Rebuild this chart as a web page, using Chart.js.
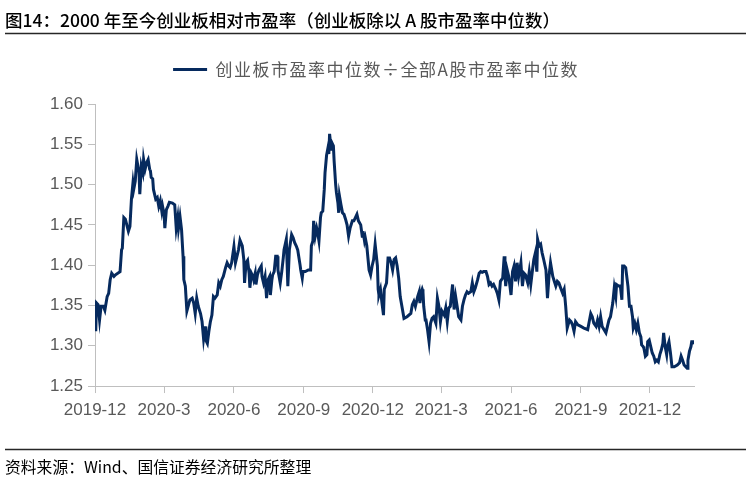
<!DOCTYPE html>
<html><head><meta charset="utf-8">
<script src="https://cdn.jsdelivr.net/npm/chart.js@4"></script>
<style>html,body{margin:0;padding:0;background:#fff;}#wrap{width:752px;height:485px;position:relative;}</style>
</head><body><div id="wrap"><canvas id="c"></canvas></div>
<script>
const titleText = '图14：2000 年至今创业板相对市盈率（创业板除以 A 股市盈率中位数）';
const sourceText = '资料来源：Wind、国信证券经济研究所整理';
const seriesName = '创业板市盈率中位数÷全部A股市盈率中位数';

const xTickDates = ['2019-12-01','2020-03-01','2020-06-01','2020-09-01','2020-12-01','2021-03-01','2021-06-01','2021-09-01','2021-12-01'];
const xTickLabels = ['2019-12','2020-3','2020-6','2020-9','2020-12','2021-3','2021-6','2021-9','2021-12'];
const axisStartDate = '2019-12-01';
const axisEndDate = '2022-01-28';
const yTicks = [1.25,1.30,1.35,1.40,1.45,1.50,1.55,1.60];
const yTickLabels = ['1.25','1.30','1.35','1.40','1.45','1.50','1.55','1.60'];

const dates = [
'2019-12-02','2019-12-03','2019-12-05','2019-12-07','2019-12-09','2019-12-12','2019-12-14','2019-12-17','2019-12-19','2019-12-21','2019-12-23','2019-12-26','2019-12-28',
'2020-01-03','2020-01-05','2020-01-06','2020-01-08','2020-01-10','2020-01-14','2020-01-16','2020-01-18','2020-01-20','2020-01-21','2020-01-23','2020-01-25','2020-01-28','2020-01-29','2020-01-31',
'2020-02-02','2020-02-03','2020-02-05','2020-02-07','2020-02-09','2020-02-11','2020-02-12','2020-02-13','2020-02-15','2020-02-16','2020-02-19','2020-02-21','2020-02-23','2020-02-25','2020-02-27','2020-02-28',
'2020-03-01','2020-03-02','2020-03-04','2020-03-06','2020-03-08','2020-03-12','2020-03-15','2020-03-17','2020-03-19','2020-03-20','2020-03-22','2020-03-24','2020-03-26','2020-03-27','2020-03-29','2020-03-31',
'2020-04-04','2020-04-07','2020-04-09','2020-04-11','2020-04-13','2020-04-15','2020-04-18','2020-04-20','2020-04-22','2020-04-24','2020-04-25','2020-04-27','2020-04-29',
'2020-05-01','2020-05-03','2020-05-05','2020-05-07','2020-05-10','2020-05-12','2020-05-14','2020-05-16','2020-05-18','2020-05-21','2020-05-23','2020-05-25','2020-05-27','2020-05-29',
'2020-06-01','2020-06-03','2020-06-05','2020-06-07','2020-06-09','2020-06-12','2020-06-14','2020-06-15','2020-06-17','2020-06-19','2020-06-21','2020-06-22','2020-06-24','2020-06-26','2020-06-27','2020-06-29','2020-06-30',
'2020-07-02','2020-07-04','2020-07-07','2020-07-08','2020-07-10','2020-07-12','2020-07-14','2020-07-16','2020-07-18','2020-07-19','2020-07-21','2020-07-22','2020-07-24','2020-07-26','2020-07-28','2020-07-29',
'2020-08-01','2020-08-03','2020-08-05','2020-08-06','2020-08-09','2020-08-11','2020-08-13','2020-08-16','2020-08-18','2020-08-20','2020-08-22','2020-08-24','2020-08-27','2020-08-28','2020-08-30','2020-08-31',
'2020-09-03','2020-09-07','2020-09-10','2020-09-11','2020-09-13','2020-09-14','2020-09-16','2020-09-18','2020-09-19','2020-09-21','2020-09-23','2020-09-24','2020-09-26','2020-09-28','2020-09-29',
'2020-10-01','2020-10-03','2020-10-04','2020-10-05','2020-10-07','2020-10-08','2020-10-10','2020-10-11','2020-10-13','2020-10-14','2020-10-16','2020-10-17','2020-10-18','2020-10-20','2020-10-22','2020-10-24','2020-10-26','2020-10-28','2020-10-30',
'2020-11-01','2020-11-04','2020-11-06','2020-11-08','2020-11-10','2020-11-12','2020-11-15','2020-11-17','2020-11-18','2020-11-20','2020-11-21','2020-11-23','2020-11-26','2020-11-28','2020-11-30',
'2020-12-02','2020-12-04','2020-12-07','2020-12-08','2020-12-09','2020-12-11','2020-12-13','2020-12-15','2020-12-16','2020-12-19','2020-12-21','2020-12-23','2020-12-25','2020-12-27','2020-12-29','2020-12-31',
'2021-01-02','2021-01-04','2021-01-06','2021-01-09','2021-01-11','2021-01-15','2021-01-20','2021-01-22','2021-01-24','2021-01-26','2021-01-29','2021-01-31',
'2021-02-01','2021-02-03','2021-02-04','2021-02-05','2021-02-06','2021-02-08','2021-02-09','2021-02-11','2021-02-13','2021-02-15','2021-02-17','2021-02-19','2021-02-22','2021-02-24','2021-02-26','2021-02-28',
'2021-03-02','2021-03-05','2021-03-07','2021-03-09','2021-03-11','2021-03-13','2021-03-16','2021-03-18','2021-03-20','2021-03-22','2021-03-24','2021-03-27','2021-03-29','2021-03-31',
'2021-04-02','2021-04-04','2021-04-06','2021-04-09','2021-04-11','2021-04-13','2021-04-15','2021-04-18','2021-04-20','2021-04-22','2021-04-24','2021-04-26','2021-04-29',
'2021-05-01','2021-05-03','2021-05-05','2021-05-07','2021-05-09','2021-05-12','2021-05-14','2021-05-16','2021-05-18','2021-05-21','2021-05-23','2021-05-24','2021-05-25','2021-05-27','2021-05-29',
'2021-06-01','2021-06-03','2021-06-05','2021-06-07','2021-06-09','2021-06-11','2021-06-14','2021-06-16','2021-06-18','2021-06-20','2021-06-23','2021-06-25','2021-06-27','2021-06-29',
'2021-07-01','2021-07-03','2021-07-05','2021-07-06','2021-07-08','2021-07-10','2021-07-12','2021-07-14','2021-07-17','2021-07-19','2021-07-21','2021-07-23','2021-07-26','2021-07-28','2021-07-30',
'2021-08-01','2021-08-03','2021-08-06','2021-08-08','2021-08-10','2021-08-12','2021-08-14','2021-08-17','2021-08-19','2021-08-21','2021-08-23','2021-08-25','2021-08-28',
'2021-09-01','2021-09-05','2021-09-10','2021-09-12','2021-09-14','2021-09-16','2021-09-18','2021-09-21','2021-09-23','2021-09-25','2021-09-27','2021-09-29',
'2021-10-04','2021-10-06','2021-10-08','2021-10-10','2021-10-13','2021-10-15','2021-10-17','2021-10-18','2021-10-21','2021-10-23','2021-10-25','2021-10-26','2021-10-28','2021-10-30',
'2021-11-02','2021-11-04','2021-11-06','2021-11-08','2021-11-09','2021-11-11','2021-11-13','2021-11-15','2021-11-17','2021-11-19','2021-11-20','2021-11-22','2021-11-23','2021-11-25','2021-11-27','2021-11-28','2021-11-30',
'2021-12-02','2021-12-04','2021-12-06','2021-12-08','2021-12-10','2021-12-12','2021-12-14','2021-12-16','2021-12-18','2021-12-19','2021-12-21','2021-12-23','2021-12-24','2021-12-26','2021-12-28','2021-12-30',
'2022-01-02','2022-01-06','2022-01-09','2022-01-11','2022-01-13','2022-01-15','2022-01-19','2022-01-20','2022-01-22','2022-01-24','2022-01-25','2022-01-27','2022-01-28'
];
const values = [
1.318,1.353,1.351,1.332,1.349,1.349,1.344,1.361,1.365,1.382,1.390,1.386,1.388,
1.392,1.419,1.421,1.459,1.457,1.442,1.448,1.482,1.502,1.494,1.504,1.531,1.515,1.488,1.523,
1.515,1.531,1.519,1.527,1.531,1.519,1.517,1.509,1.507,1.494,1.482,1.484,1.473,1.480,1.467,1.473,
1.463,1.446,1.469,1.473,1.478,1.477,1.475,1.446,1.459,1.446,1.460,1.444,1.411,1.382,1.374,1.343,
1.357,1.359,1.353,1.340,1.359,1.349,1.340,1.330,1.309,1.324,1.307,1.303,1.318,
1.330,1.338,1.361,1.359,1.363,1.378,1.374,1.382,1.386,1.397,1.403,1.399,1.397,1.403,
1.423,1.403,1.411,1.419,1.431,1.424,1.407,1.378,1.403,1.406,1.390,1.372,1.390,1.386,1.382,1.390,1.376,
1.388,1.394,1.399,1.386,1.378,1.386,1.359,1.382,1.386,1.363,1.382,1.388,1.392,1.411,1.411,1.394,
1.378,1.392,1.409,1.419,1.432,1.374,1.419,1.438,1.434,1.428,1.424,1.419,1.401,1.394,1.384,1.392,
1.392,1.394,1.394,1.424,1.430,1.455,1.436,1.446,1.442,1.430,1.459,1.465,1.467,1.494,1.515,
1.536,1.546,1.538,1.563,1.544,1.552,1.548,1.529,1.500,1.490,1.477,1.465,1.486,1.475,1.465,1.463,1.457,1.450,1.436,
1.446,1.455,1.455,1.459,1.463,1.455,1.450,1.436,1.442,1.430,1.434,1.424,1.394,1.388,1.399,
1.407,1.426,1.399,1.370,1.363,1.370,1.353,1.338,1.370,1.378,1.409,1.409,1.403,1.394,1.407,1.409,
1.399,1.384,1.361,1.345,1.334,1.336,1.340,1.351,1.355,1.349,1.361,1.367,
1.353,1.367,1.370,1.367,1.349,1.332,1.332,1.320,1.305,1.328,1.334,1.336,1.328,1.359,1.349,1.330,
1.343,1.338,1.347,1.330,1.347,1.349,1.376,1.345,1.361,1.349,1.336,1.332,1.349,1.357,
1.363,1.367,1.365,1.367,1.378,1.367,1.372,1.382,1.390,1.392,1.391,1.392,1.392,
1.386,1.376,1.378,1.374,1.376,1.370,1.365,1.357,1.380,1.384,1.411,1.388,1.374,1.394,1.386,
1.363,1.392,1.399,1.380,1.403,1.386,1.403,1.374,1.390,1.388,1.378,1.392,1.376,1.392,
1.407,1.415,1.392,1.432,1.424,1.426,1.415,1.407,1.394,1.359,1.386,1.403,1.386,1.380,1.374,
1.380,1.378,1.370,1.365,1.370,1.349,1.322,1.332,1.330,1.326,1.318,1.330,1.326,
1.324,1.322,1.320,1.330,1.340,1.336,1.328,1.324,1.332,1.324,1.336,1.324,
1.316,1.324,1.332,1.336,1.353,1.372,1.361,1.376,1.374,1.374,1.357,1.399,1.399,1.397,
1.374,1.349,1.349,1.336,1.322,1.328,1.320,1.328,1.316,1.311,1.301,1.299,1.297,1.287,1.289,1.305,1.307,
1.299,1.291,1.287,1.280,1.282,1.280,1.289,1.295,1.303,1.316,1.299,1.289,1.299,1.305,1.291,1.274,
1.274,1.276,1.279,1.287,1.282,1.276,1.272,1.282,1.293,1.299,1.305,1.305,1.302
];

const NAVY = '#062a5e';
const AXIS_GREY = '#bfbfbf';
const TEXT_GREY = '#595959';
const CJK = "'Noto Sans CJK SC', 'Noto Sans', sans-serif";
const LATIN = "'Liberation Sans', Arial, sans-serif";
const LEGEND_SPACING = '1.5px';
const LEGEND_EXTRA = 16;

function dayOffset(s) {
  const p = s.split('-').map(Number);
  const q = axisStartDate.split('-').map(Number);
  return Math.round((Date.UTC(p[0], p[1]-1, p[2]) - Date.UTC(q[0], q[1]-1, q[2])) / 86400000);
}

const points = dates.map((d, i) => ({x: dayOffset(d), y: values[i]}));

const legendTweak = {
  id: 'legendTweak',
  afterInit(chart) {
    const lg = chart.legend;
    if (!lg || lg._tweaked) return;
    lg._tweaked = true;
    const fit0 = lg.fit, draw0 = lg.draw;
    lg.fit = function() {
      const c = this.ctx; c.save(); c.letterSpacing = LEGEND_SPACING; fit0.call(this); c.restore();
      this.height += LEGEND_EXTRA;
    };
    lg.draw = function() {
      const c = this.ctx; c.save(); c.letterSpacing = LEGEND_SPACING; draw0.call(this); c.restore();
    };
  }
};

const rules = {
  id: 'rules',
  afterDraw(chart) {
    const c = chart.ctx;
    c.save();
    c.strokeStyle = '#262626';
    c.lineWidth = 1.5;
    c.beginPath();
    c.moveTo(5, 33.5); c.lineTo(746, 33.5);
    c.moveTo(5, 449.5); c.lineTo(746, 449.5);
    c.stroke();
    c.restore();
  }
};

new Chart(document.getElementById('c'), {
  type: 'line',
  data: {
    datasets: [{
      label: seriesName,
      data: points,
      borderColor: NAVY,
      backgroundColor: NAVY,
      borderWidth: 3,
      pointRadius: 0,
      pointHoverRadius: 0,
      tension: 0,
      fill: false
    }]
  },
  options: {
    responsive: true,
    maintainAspectRatio: false,
    animation: false,
    layout: {padding: {left: 5, right: 5, top: 0, bottom: 0}},
    plugins: {
      title: {
        display: true, text: titleText, align: 'start', color: '#000',
        font: {family: CJK, size: 17.5, weight: '500'},
        padding: {top: 10, bottom: 20}
      },
      subtitle: {
        display: true, text: sourceText, position: 'bottom', align: 'start', color: '#000',
        font: {family: CJK, size: 15.8, weight: 'normal'},
        padding: {top: 19, bottom: 9}
      },
      legend: {
        display: true, position: 'top', align: 'center',
        labels: {
          usePointStyle: true, pointStyle: 'line', pointStyleWidth: 34,
          color: TEXT_GREY, font: {family: CJK, size: 17}, padding: 10
        }
      },
      tooltip: {enabled: false}
    },
    scales: {
      x: {
        type: 'linear',
        min: dayOffset(axisStartDate),
        max: dayOffset(axisEndDate),
        afterBuildTicks: s => { s.ticks = xTickDates.map(d => ({value: dayOffset(d)})); },
        afterFit: s => { s.height = 52; },
        ticks: {
          autoSkip: false, maxRotation: 0, minRotation: 0, padding: 7,
          color: TEXT_GREY, font: {family: LATIN, size: 17},
          callback: (v, i) => xTickLabels[i]
        },
        grid: {display: true, drawOnChartArea: false, drawTicks: true, tickLength: 7, color: AXIS_GREY},
        border: {display: true, color: AXIS_GREY, width: 1}
      },
      y: {
        type: 'linear',
        min: 1.25, max: 1.60,
        afterBuildTicks: s => { s.ticks = yTicks.map(v => ({value: v})); },
        afterFit: s => { s.width = 90; },
        ticks: {
          padding: 5, color: TEXT_GREY, font: {family: LATIN, size: 17},
          callback: (v, i) => yTickLabels[i]
        },
        grid: {display: true, drawOnChartArea: false, drawTicks: true, tickLength: 7, color: AXIS_GREY},
        border: {display: true, color: AXIS_GREY, width: 1}
      },
      spacer: {
        type: 'linear', position: 'right', display: true,
        grid: {display: false}, border: {display: false}, ticks: {display: false},
        afterFit: s => { s.width = 53; }
      }
    }
  },
  plugins: [legendTweak, rules]
});
</script>
</body></html>
